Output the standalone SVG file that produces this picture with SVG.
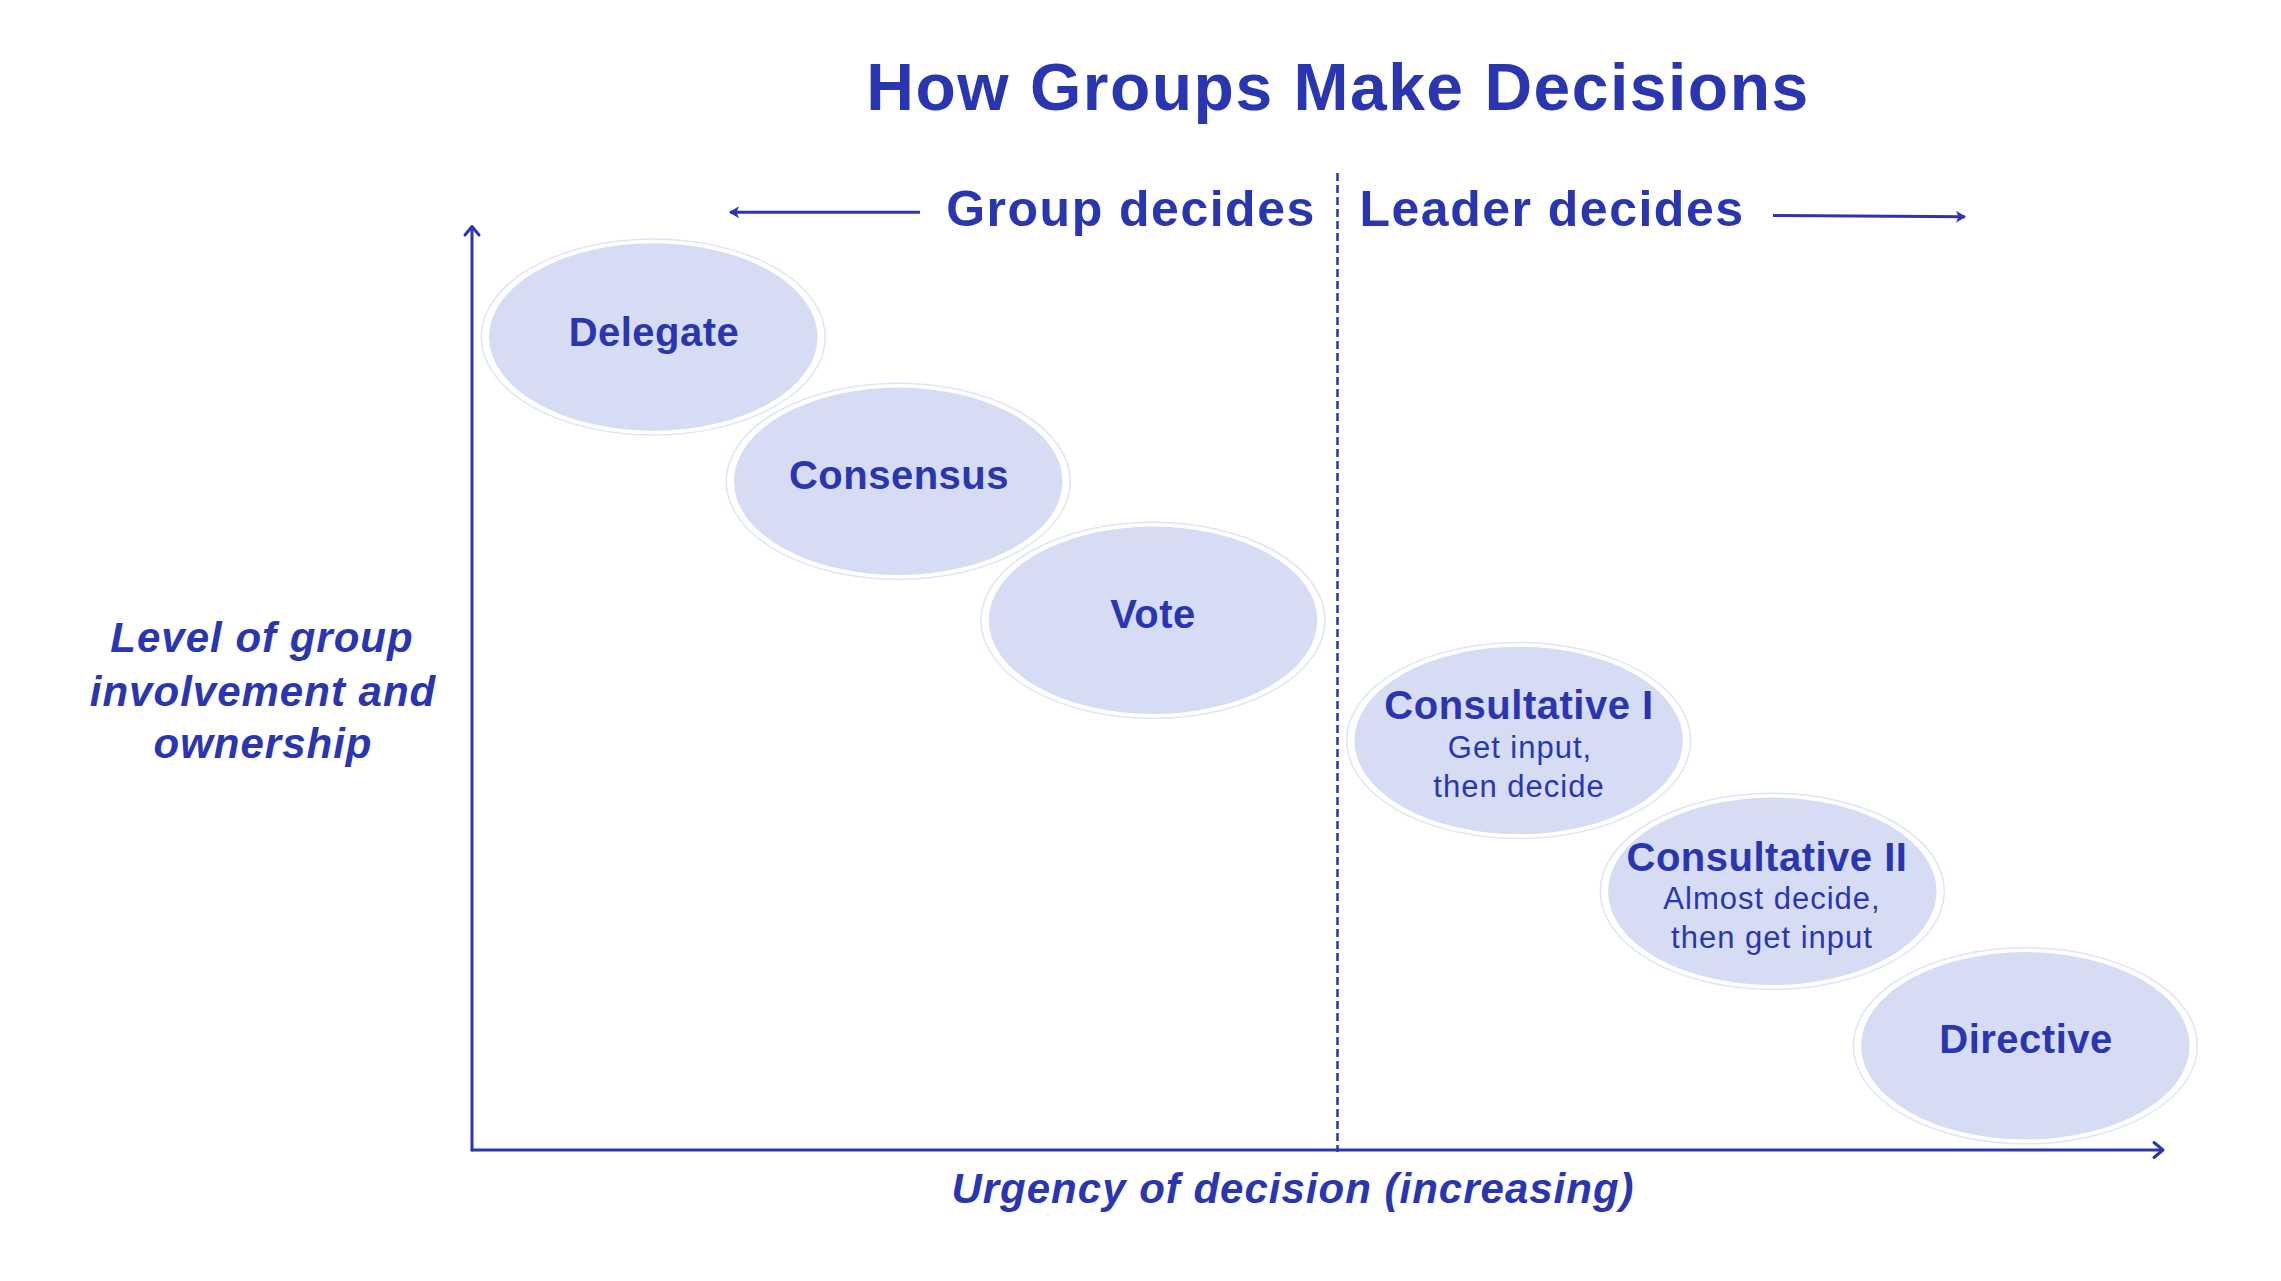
<svg xmlns="http://www.w3.org/2000/svg" width="2281" height="1281" viewBox="0 0 2281 1281">
<style>
  text { font-family: "Liberation Sans", Arial, sans-serif; fill: #2a36b1; text-anchor: middle; }
  .title { font-size: 66px; font-weight: bold; letter-spacing: 1.5px; }
  .side { font-size: 50px; font-weight: bold; letter-spacing: 1.5px; }
  .axis { font-size: 42px; font-weight: bold; font-style: italic; letter-spacing: 1px; }
  .node { font-size: 40px; font-weight: bold; letter-spacing: 0.5px; }
  .sub { font-size: 31px; letter-spacing: 1px; }
  .blob { fill: #d6dcf4; }
  .ring { fill: none; stroke: #dfe4f8; stroke-width: 1.5; }
  .ax { fill: none; stroke: #2a36b1; stroke-width: 3; stroke-linecap: round; stroke-linejoin: round; }
  .guide { fill: none; stroke: #2a36b1; stroke-width: 3; }
  .dash { fill: none; stroke: #2a36b1; stroke-width: 2.5; stroke-dasharray: 8 4; }
</style>
<defs>
  <marker id="tri" viewBox="0 0 10 12" refX="9" refY="6" markerWidth="10" markerHeight="12" markerUnits="userSpaceOnUse" orient="auto">
    <path d="M0,0 L10,6 L0,12 L2.5,6 Z" fill="#2a36b1"/>
  </marker>
</defs>
<rect width="2281" height="1281" fill="#ffffff"/>

<text class="title" x="1338" y="110">How Groups Make Decisions</text>
<text class="side" x="1131" y="226">Group decides</text>
<text class="side" x="1552" y="226">Leader decides</text>

<g id="connectors">
  <line class="dash" x1="1337.5" y1="173" x2="1337.5" y2="1152"/>
  <path class="ax" d="M472,1150 L472,227"/>
  <path class="ax" d="M465,235 L472,226.5 L479,235"/>
  <path class="ax" d="M472,1150 L2162,1150"/>
  <path class="ax" d="M2154,1142.5 L2163,1150 L2154,1157.5"/>
  <line class="guide" x1="920" y1="212.3" x2="730" y2="212.3" marker-end="url(#tri)"/>
  <line class="guide" x1="1773" y1="215.5" x2="1965" y2="216.8" marker-end="url(#tri)"/>
</g>

<g id="y-label">
  <text class="axis" x="262" y="652">Level of group</text>
  <text class="axis" x="263" y="706">involvement and</text>
  <text class="axis" x="263" y="758">ownership</text>
</g>
<g id="x-label">
  <text class="axis" x="1293" y="1203">Urgency of decision (increasing)</text>
</g>

<g id="delegate">
  <ellipse class="ring" cx="653.3" cy="337" rx="172" ry="98"/>
  <ellipse class="blob" cx="653.3" cy="337" rx="164.3" ry="93.7"/>
  <text class="node" x="654" y="345.7">Delegate</text>
</g>
<g id="consensus">
  <ellipse class="ring" cx="898.2" cy="481.3" rx="172" ry="98"/>
  <ellipse class="blob" cx="898.2" cy="481.3" rx="164.3" ry="93.7"/>
  <text class="node" x="899" y="489.3">Consensus</text>
</g>
<g id="vote">
  <ellipse class="ring" cx="1153" cy="620.3" rx="172" ry="98"/>
  <ellipse class="blob" cx="1153" cy="620.3" rx="164.3" ry="93.7"/>
  <text class="node" x="1153" y="628.3">Vote</text>
</g>
<g id="consultative-1">
  <ellipse class="ring" cx="1518.7" cy="740.5" rx="172" ry="98"/>
  <ellipse class="blob" cx="1518.7" cy="740.5" rx="164.3" ry="93.7"/>
  <text class="node" x="1519" y="719.3">Consultative I</text>
  <text class="sub" x="1520" y="758.3">Get input,</text>
  <text class="sub" x="1519" y="796.7">then decide</text>
</g>
<g id="consultative-2">
  <ellipse class="ring" cx="1772.3" cy="891.3" rx="172" ry="98"/>
  <ellipse class="blob" cx="1772.3" cy="891.3" rx="164.3" ry="93.7"/>
  <text class="node" x="1767" y="870.7">Consultative II</text>
  <text class="sub" x="1772" y="909">Almost decide,</text>
  <text class="sub" x="1772" y="948">then get input</text>
</g>
<g id="directive">
  <ellipse class="ring" cx="2025.4" cy="1045.8" rx="172" ry="98"/>
  <ellipse class="blob" cx="2025.4" cy="1045.8" rx="164.3" ry="93.7"/>
  <text class="node" x="2026" y="1053.3">Directive</text>
</g>
</svg>
